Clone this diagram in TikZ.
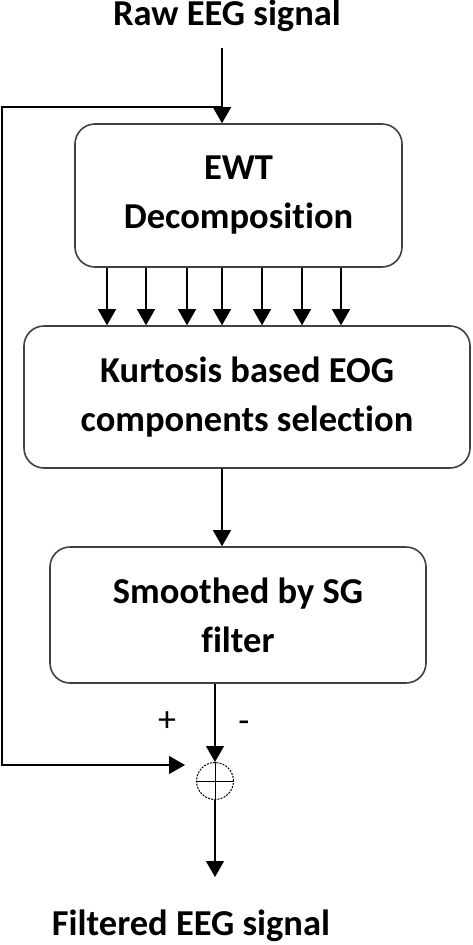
\documentclass[tikz,border=0pt]{standalone}
\usepackage{fontspec}
\setmainfont{Carlito}[Ligatures=NoCommon]
\usetikzlibrary{arrows.meta}

\begin{document}
\begin{tikzpicture}[x=1pt,y=-1pt,line width=1.3pt,
    >={Triangle[width=18pt,length=16pt]}]
    \tikzstyle{block} = [draw=black!75, line width=1.6pt, rounded corners=20pt,
        align=center, inner sep=0pt, font=\fontsize{36.5}{49}\selectfont\bfseries]
    \tikzstyle{ann} = [draw=none,fill=none,align=center]
    \tikzstyle{sumnode} = [circle, draw, line width=1pt, dash pattern=on 2pt off 1.2pt,
        minimum size=37pt, inner sep=0pt]
    \useasboundingbox (0,0) rectangle (472,945);

    \node[ann, font=\fontsize{36.5}{40}\selectfont\bfseries] (raw) at (227,16) {Raw EEG signal};
    \node[block, minimum width=327pt, minimum height=143pt] (ewt) at (238.5,195.5)
        {EWT\\Decomposition};
    \node[block, minimum width=446pt, minimum height=142pt] (kurt) at (247,397)
        {Kurtosis based EOG\\components selection};
    \node[block, minimum width=376pt, minimum height=136pt] (smooth) at (238,615)
        {Smoothed by SG\\filter};
    \node[sumnode] (sum) at (215,781) {};
    \draw[line width=1pt] (sum.north) -- (sum.south) (sum.west) -- (sum.east);
    \node[ann, font=\fontsize{36.5}{40}\selectfont\bfseries] (filt) at (191,926) {Filtered EEG signal};
    \node[ann, font=\fontsize{36}{40}\selectfont] (plus) at (167,722) {+};
    \node[ann, font=\fontsize{36}{40}\selectfont] (minus) at (244,727) {-};

    \coordinate (rawend) at (222,48);
    \coordinate (tap) at (222,107);
    \coordinate (plusin) at (185,765);
    \coordinate (out) at (215,877);

    \draw[->] (rawend) -- (rawend |- ewt.north);
    \draw[->] (tap) -- (2,107) -- (2,765) -- (plusin);
    \foreach \x in {107,146,187,222,262,302,341}
        \draw[->] (\x,0 |- ewt.south) -- (\x,0 |- kurt.north);
    \draw[->] (222,0 |- kurt.south) -- (222,0 |- smooth.north);
    \draw[->] (sum.north |- smooth.south) -- (sum.north);
    \draw[->] (sum.south) -- (out);
\end{tikzpicture}
\end{document}
